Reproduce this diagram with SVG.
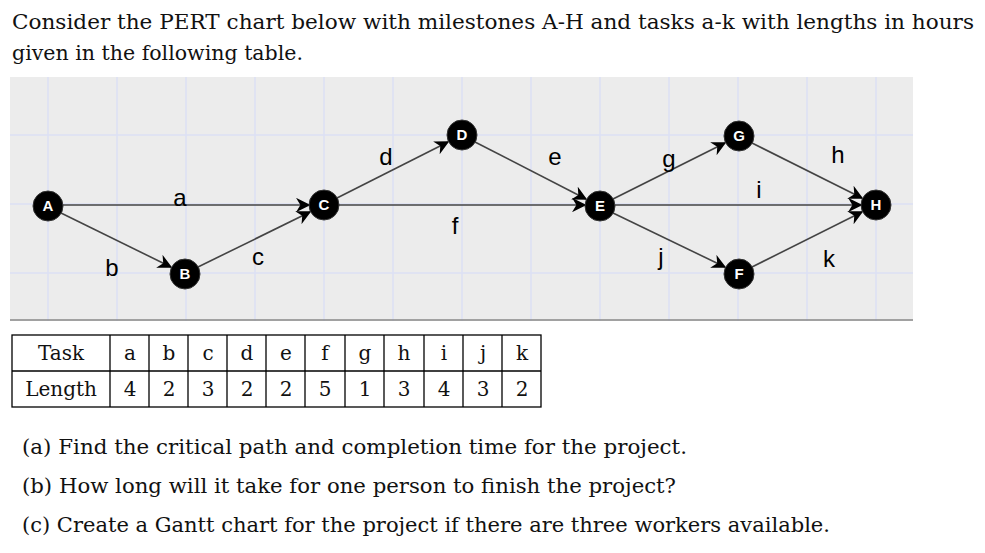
<svg xmlns="http://www.w3.org/2000/svg" width="985" height="553" viewBox="0 0 985 553">
<defs>
<style>
.t{font-family:"DejaVu Serif","Liberation Serif",serif;font-size:21px;fill:#111}
.n circle{fill:#000;stroke:#333;stroke-width:1}
.n text{font-family:"Liberation Sans",Arial,sans-serif;font-weight:bold;font-size:15px;fill:#fff;text-anchor:middle}
.lbl{font-family:"Liberation Sans",Arial,sans-serif;font-size:24px;fill:#000;text-anchor:middle}
.e{stroke:#444;stroke-width:1.6;fill:none;marker-end:url(#ah)}
.g{stroke:#dde0f5;stroke-width:1.5}
.tb{font-family:"DejaVu Serif","Liberation Serif",serif;font-size:20px;fill:#111;text-anchor:middle}
</style>
<marker id="ah" viewBox="0 0 10 10" refX="9" refY="5" markerWidth="9" markerHeight="9" orient="auto" markerUnits="strokeWidth"><path d="M0,0L10,5L0,10L3,5z" fill="#000"/></marker>
</defs>
<rect width="985" height="553" fill="#fff"/>
<text class="t" x="12" y="29" textLength="962" lengthAdjust="spacingAndGlyphs">Consider the PERT chart below with milestones A-H and tasks a-k with lengths in hours</text>
<text class="t" x="12" y="60" textLength="291" lengthAdjust="spacingAndGlyphs">given in the following table.</text>
<rect x="10" y="77" width="903" height="244" fill="#ececec"/>
<g class="g">
<line x1="48" y1="77" x2="48" y2="321"/><line x1="117" y1="77" x2="117" y2="321"/><line x1="186" y1="77" x2="186" y2="321"/><line x1="255" y1="77" x2="255" y2="321"/><line x1="324" y1="77" x2="324" y2="321"/><line x1="393" y1="77" x2="393" y2="321"/><line x1="462" y1="77" x2="462" y2="321"/><line x1="531" y1="77" x2="531" y2="321"/><line x1="600" y1="77" x2="600" y2="321"/><line x1="669" y1="77" x2="669" y2="321"/><line x1="738" y1="77" x2="738" y2="321"/><line x1="807" y1="77" x2="807" y2="321"/><line x1="876" y1="77" x2="876" y2="321"/>
<line x1="10" y1="135" x2="913" y2="135"/><line x1="10" y1="204" x2="913" y2="204"/><line x1="10" y1="273" x2="913" y2="273"/>
</g>
<line x1="10" y1="320" x2="913" y2="320" stroke="#888" stroke-width="1.5"/>
<g id="connectors">
<line class="e" x1="63" y1="205" x2="309" y2="205"/>
<line class="e" x1="61" y1="213" x2="171" y2="267"/>
<line class="e" x1="198" y1="267" x2="310" y2="212"/>
<line class="e" x1="337" y1="198" x2="448" y2="142"/>
<line class="e" x1="339" y1="205" x2="585" y2="205"/>
<line class="e" x1="475" y1="142" x2="586" y2="199"/>
<line class="e" x1="613" y1="199" x2="725" y2="143"/>
<line class="e" x1="615" y1="205" x2="861" y2="205"/>
<line class="e" x1="613" y1="213" x2="725" y2="267"/>
<line class="e" x1="752" y1="143" x2="862" y2="198"/>
<line class="e" x1="752" y1="267" x2="862" y2="212"/>
</g>
<g class="lbl">
<text x="180" y="206">a</text><text x="112" y="276">b</text><text x="258" y="265">c</text><text x="386" y="165">d</text>
<text x="555" y="165">e</text><text x="455" y="234">f</text><text x="669" y="167">g</text><text x="838" y="163">h</text>
<text x="759" y="198">i</text><text x="661" y="265">j</text><text x="829" y="267">k</text>
</g>
<g id="A" class="n"><circle cx="48" cy="206" r="15"/><text x="48" y="211">A</text></g>
<g id="B" class="n"><circle cx="185" cy="274" r="15"/><text x="185" y="279">B</text></g>
<g id="C" class="n"><circle cx="324" cy="205" r="15"/><text x="324" y="210">C</text></g>
<g id="D" class="n"><circle cx="462" cy="135" r="15"/><text x="462" y="140">D</text></g>
<g id="E" class="n"><circle cx="600" cy="206" r="15"/><text x="600" y="211">E</text></g>
<g id="G" class="n"><circle cx="739" cy="136" r="15"/><text x="739" y="141">G</text></g>
<g id="F" class="n"><circle cx="739" cy="274" r="15"/><text x="739" y="279">F</text></g>
<g id="H" class="n"><circle cx="876" cy="205" r="15"/><text x="876" y="210">H</text></g>
<g id="table" stroke="#000" stroke-width="1.3" fill="none">
<rect x="12" y="335" width="529" height="72"/>
<line x1="12" y1="371" x2="541" y2="371"/>
<line x1="110" y1="335" x2="110" y2="407"/><line x1="149" y1="335" x2="149" y2="407"/><line x1="188" y1="335" x2="188" y2="407"/><line x1="227" y1="335" x2="227" y2="407"/><line x1="266" y1="335" x2="266" y2="407"/><line x1="305" y1="335" x2="305" y2="407"/><line x1="345" y1="335" x2="345" y2="407"/><line x1="384" y1="335" x2="384" y2="407"/><line x1="424" y1="335" x2="424" y2="407"/><line x1="463" y1="335" x2="463" y2="407"/><line x1="502" y1="335" x2="502" y2="407"/>
</g>
<g class="tb">
<text x="61" y="360">Task</text><text x="61" y="396">Length</text>
<text x="130" y="360">a</text><text x="169" y="360">b</text><text x="208" y="360">c</text><text x="247" y="360">d</text><text x="286" y="360">e</text><text x="325" y="360">f</text><text x="365" y="360">g</text><text x="404" y="360">h</text><text x="444" y="360">i</text><text x="483" y="360">j</text><text x="522" y="360">k</text>
<text x="130" y="396">4</text><text x="169" y="396">2</text><text x="208" y="396">3</text><text x="247" y="396">2</text><text x="286" y="396">2</text><text x="325" y="396">5</text><text x="365" y="396">1</text><text x="404" y="396">3</text><text x="444" y="396">4</text><text x="483" y="396">3</text><text x="522" y="396">2</text>
</g>
<text class="t" x="22" y="454" textLength="665" lengthAdjust="spacingAndGlyphs">(a)  Find the critical path and completion time for the project.</text>
<text class="t" x="22" y="493" textLength="654" lengthAdjust="spacingAndGlyphs">(b)  How long will it take for one person to finish the project?</text>
<text class="t" x="22" y="532" textLength="808" lengthAdjust="spacingAndGlyphs">(c)  Create a Gantt chart for the project if there are three workers available.</text>
</svg>
